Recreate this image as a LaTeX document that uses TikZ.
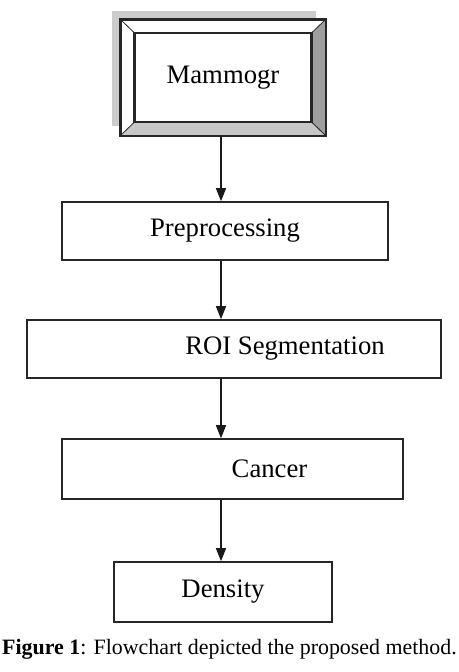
\documentclass[tikz,border=0pt]{standalone}
\usepackage{fontspec}
\setmainfont{Liberation Serif}
\usetikzlibrary{arrows.meta,shadows}
\newcommand{\boxfont}{\fontsize{26.7}{32}\selectfont}
\begin{document}
\begin{tikzpicture}[x=1pt,y=-1pt,
		stepbox/.style={draw=black!85, line width=1.6pt, fill=white, inner sep=0pt, font=\boxfont},
		flow/.style={-{Triangle[width=10pt,length=13pt]}, line width=1.5pt, black!90}]
	\useasboundingbox (0,0) rectangle (458,672);
	\coordinate (axis) at (221,0);
	% bevelled input box
	\node[stepbox, minimum width=204pt, minimum height=115pt,
		drop shadow={shadow xshift=-9pt, shadow yshift=9pt, opacity=1, fill=black!20}] (mammo) at (223,77.5) {};
	\node[stepbox, minimum width=176pt, minimum height=88pt] (mammoin) at (mammo.center) {Mammogr};
	\filldraw[fill=black!38, draw=black!85, line width=0.8pt] (mammo.north east) -- (mammo.south east) -- (mammoin.south east) -- (mammoin.north east) -- cycle;
	\filldraw[fill=black!22, draw=black!85, line width=0.8pt] (mammo.south west) -- (mammo.south east) -- (mammoin.south east) -- (mammoin.south west) -- cycle;
	\draw[black!85, line width=0.8pt] (mammo.north west) -- (mammoin.north west);
	\draw[black!85, line width=1.6pt] (mammo.north west) rectangle (mammo.south east);
	\draw[black!85, line width=1.6pt] (mammoin.north west) rectangle (mammoin.south east);
	% steps
	\node[stepbox, minimum width=326pt, minimum height=58pt] (prep) at (225,231) {Preprocessing};
	\node[stepbox, minimum width=414pt, minimum height=58pt,
		label={[xshift=51pt, font=\boxfont]center:ROI Segmentation}] (roi) at (234,349) {};
	\node[stepbox, minimum width=341pt, minimum height=60pt,
		label={[xshift=37pt, font=\boxfont]center:Cancer}] (cancer) at (232.5,469) {};
	\node[stepbox, minimum width=218pt, minimum height=60pt] (dens) at (223,592) {Density};
	% arrows
	\draw[flow] (axis |- mammo.south) -- (axis |- prep.north);
	\draw[flow] (axis |- prep.south) -- (axis |- roi.north);
	\draw[flow] (axis |- roi.south) -- (axis |- cancer.north);
	\draw[flow] (axis |- cancer.south) -- (axis |- dens.north);
	% caption
	\node[anchor=base west, inner sep=0pt, font=\fontsize{21.9}{26}\selectfont] (cap) at (2,654)
		{\textbf{Figure 1}: Flowchart depicted the proposed method.};
\end{tikzpicture}
\end{document}
